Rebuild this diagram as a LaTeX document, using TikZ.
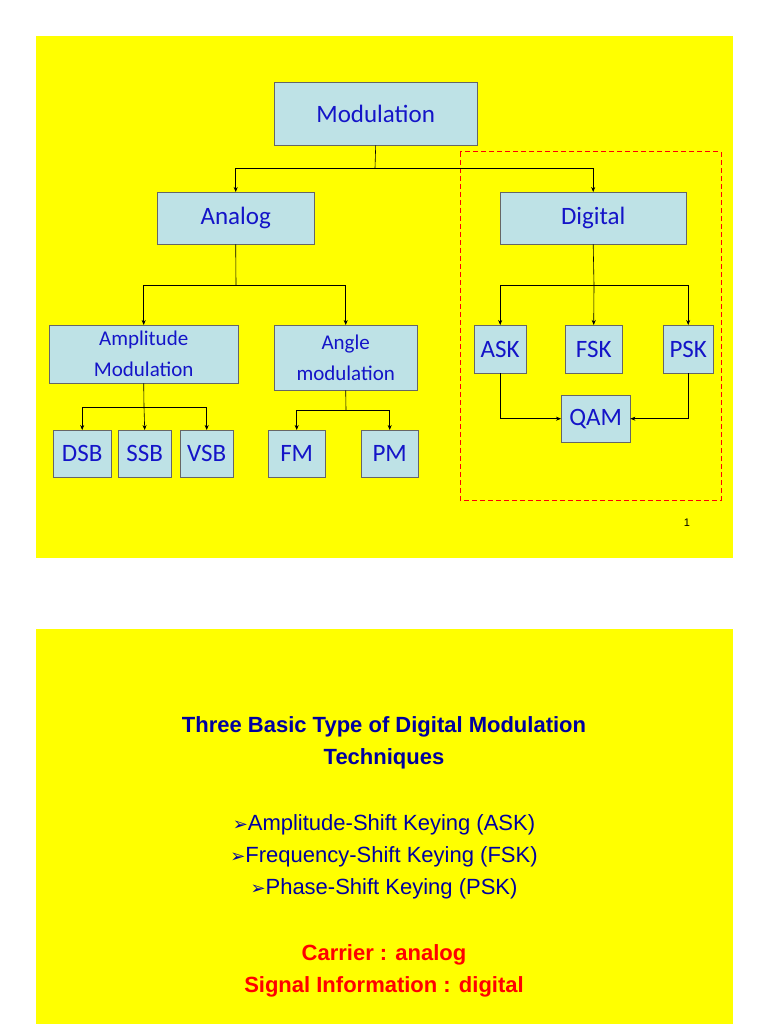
\documentclass[tikz,border=0pt]{standalone}
\usepackage{fontspec}
\setmainfont{Carlito}
\newfontfamily\arial{Liberation Sans}
\usetikzlibrary{arrows.meta}
\definecolor{slide}{RGB}{255,255,0}
\definecolor{boxfill}{RGB}{190,226,230}
\definecolor{txtblue}{RGB}{20,20,200}
\definecolor{tblue}{RGB}{0,0,160}
\begin{document}
\begin{tikzpicture}[x=1pt,y=-1pt,
  bx/.style={draw=gray!80!black,fill=boxfill,text=txtblue,inner sep=0pt,anchor=north west,align=center},
  ar/.style={-{Stealth[length=5pt,width=4pt]},line width=0.6pt},
  ln/.style={line width=0.6pt},
  tx/.style={font=\arial\fontsize{22}{26}\selectfont\bfseries,text=tblue}]
\useasboundingbox (0,0) rectangle (768,1024);
\fill[white] (0,0) rectangle (768,1024);
\fill[slide] (36,36) rectangle (733,558);
\fill[slide] (36,629) rectangle (733,1024);
% boxes
\newcommand{\bxx}[6]{\node[bx,minimum width=#4-#2,minimum height=#5-#3,font=\fontsize{#6}{#6}\selectfont] (#1) at (#2,#3) {};}
\node[bx,minimum width=203,minimum height=63,font=\fontsize{25}{28}\selectfont] (mod) at (274,82) {Modulation};
\node[bx,minimum width=157,minimum height=52,font=\fontsize{25}{28}\selectfont] (ana) at (157,192) {Analog};
\node[bx,minimum width=186,minimum height=52,font=\fontsize{25}{28}\selectfont] (dig) at (500,192) {Digital};
\node[bx,minimum width=189,minimum height=58,font=\fontsize{21}{31}\selectfont] (amp) at (49,325) {Amplitude\\Modulation};
\node[bx,minimum width=143,minimum height=65,font=\fontsize{21}{31}\selectfont] (ang) at (274,325) {Angle\\modulation};
\node[bx,minimum width=52,minimum height=48,font=\fontsize{25}{28}\selectfont] (ask) at (474,325) {ASK};
\node[bx,minimum width=57,minimum height=48,font=\fontsize{25}{28}\selectfont] (fsk) at (565,325) {FSK};
\node[bx,minimum width=50,minimum height=48,font=\fontsize{25}{28}\selectfont] (psk) at (663,325) {PSK};
\node[bx,minimum width=69,minimum height=47,font=\fontsize{25}{28}\selectfont] (qam) at (561,395) {QAM};
\node[bx,minimum width=58,minimum height=47,font=\fontsize{25}{28}\selectfont] (dsb) at (53,430) {DSB};
\node[bx,minimum width=53,minimum height=47,font=\fontsize{25}{28}\selectfont] (ssb) at (118,430) {SSB};
\node[bx,minimum width=53,minimum height=47,font=\fontsize{25}{28}\selectfont] (vsb) at (180,430) {VSB};
\node[bx,minimum width=57,minimum height=47,font=\fontsize{25}{28}\selectfont] (fm) at (268,430) {FM};
\node[bx,minimum width=57,minimum height=47,font=\fontsize{25}{28}\selectfont] (pm) at (361,430) {PM};
\draw[red,dashed,line width=1pt,dash pattern=on 5pt off 3pt] (460,152) rectangle (721,500);
\node[font=\arial\fontsize{11}{13}\selectfont] (pg) at (687,523) {1};
% connectors
\coordinate (j1) at (375,168);
\draw[ln] (mod.south) -- (j1);
\draw[ar] (j1) -| (ana.north);
\draw[ar] (j1) -| (dig.north);
\coordinate (j2) at (236,285);
\draw[ln] (ana.south) -- (j2);
\draw[ar] (j2) -| (amp.north);
\draw[ar] (j2) -| (ang.north);
\coordinate (j3) at (594,285);
\draw[ln] (dig.south) -- (j3);
\draw[ar] (j3) -| (ask.north);
\draw[ar] (j3) -- (fsk.north);
\draw[ar] (j3) -| (psk.north);
\draw[ar] (ask.south) |- (qam.west);
\draw[ar] (psk.south) |- (qam.east);
\coordinate (j4) at (144,407);
\draw[ln] (amp.south) -- (j4);
\draw[ar] (j4) -| (dsb.north);
\draw[ar] (j4) -- (ssb.north);
\draw[ar] (j4) -| (vsb.north);
\coordinate (j5) at (346,410);
\draw[ln] (ang.south) -- (j5);
\draw[ar] (j5) -| (fm.north);
\draw[ar] (j5) -| (pm.north);
% slide 2
\node[tx] (t1) at (384,727) {Three Basic Type of Digital Modulation};
\node[tx] (t2) at (384,759) {Techniques};
\node[font=\arial\fontsize{22}{26}\selectfont,text=tblue] (b1) at (384,825) {\fontspec{DejaVu Sans}\fontsize{18}{26}\selectfont\symbol{"27A2}\arial\fontsize{22}{26}\selectfont Amplitude-Shift Keying (ASK)};
\node[font=\arial\fontsize{22}{26}\selectfont,text=tblue] (b2) at (384,857) {\fontspec{DejaVu Sans}\fontsize{18}{26}\selectfont\symbol{"27A2}\arial\fontsize{22}{26}\selectfont Frequency-Shift Keying (FSK)};
\node[font=\arial\fontsize{22}{26}\selectfont,text=tblue] (b3) at (384,889) {\fontspec{DejaVu Sans}\fontsize{18}{26}\selectfont\symbol{"27A2}\arial\fontsize{22}{26}\selectfont Phase-Shift Keying (PSK)};
\node[tx,text=red] (c1) at (384,955) {Carrier : analog};
\node[tx,text=red] (c2) at (384,987) {Signal Information : digital};
\end{tikzpicture}
\end{document}
